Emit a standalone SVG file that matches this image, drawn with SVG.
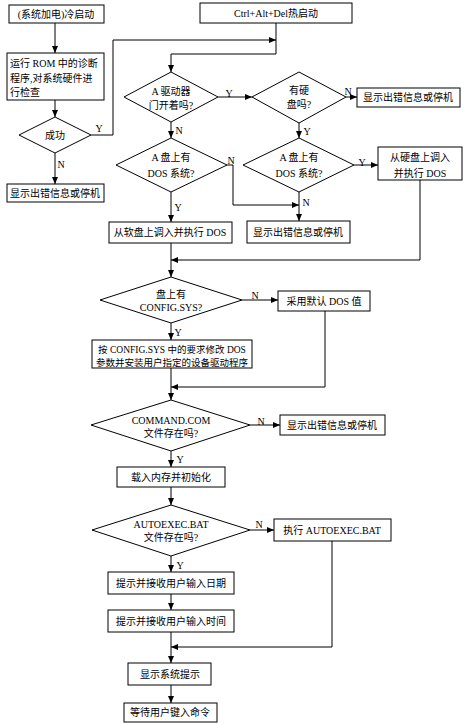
<svg xmlns="http://www.w3.org/2000/svg" width="466" height="724" viewBox="0 0 466 724">
<style>
.b{fill:#fff;stroke:#000;stroke-width:1}
.t{font-family:"Liberation Serif","Noto Sans CJK SC",serif;font-size:10px;fill:#000;text-anchor:middle}
.l{font-family:"Liberation Serif","Noto Sans CJK SC",serif;font-size:10px;fill:#000;text-anchor:middle}
.c{fill:none;stroke:#000;stroke-width:1;marker-end:url(#a)}
</style>
<defs>
<marker id="a" markerUnits="userSpaceOnUse" markerWidth="8" markerHeight="8" refX="7" refY="4" orient="auto">
<path d="M0,1 L7,4 L0,7 Z" fill="#000"/>
</marker>
</defs>
<rect width="466" height="724" fill="#fff"/>
<g id="connectors">
<path class="c" d="M55,23 V53"/>
<path class="c" d="M55,100 V117"/>
<path class="c" d="M91,135 H113 V40 H276"/>
<path class="c" d="M55,153 V184"/>
<path class="c" d="M276,23 V54 H171 V72"/>
<path class="c" d="M218,97 H252"/>
<path class="c" d="M346,97 H357"/>
<path class="c" d="M299,123 V138"/>
<path class="c" d="M171,122 V138"/>
<path class="c" d="M354,165 H378"/>
<path class="c" d="M171,192 V222"/>
<path class="c" d="M227,165 H233 V205 H299"/>
<path class="c" d="M299,192 V221"/>
<path class="c" d="M420,180 V260 H171"/>
<path class="c" d="M171,243 V277"/>
<path class="c" d="M242,300 H278"/>
<path class="c" d="M171,323 V340"/>
<path class="c" d="M325,311 V387 H171"/>
<path class="c" d="M171,368 V400"/>
<path class="c" d="M250,425 H280"/>
<path class="c" d="M171,451 V467"/>
<path class="c" d="M171,487 V505"/>
<path class="c" d="M250,530 H274"/>
<path class="c" d="M171,556 V572"/>
<path class="c" d="M171,594 V610"/>
<path class="c" d="M332,541 V647 H171"/>
<path class="c" d="M171,632 V663"/>
<path class="c" d="M171,685 V703"/>
<text class="l" x="99" y="132">Y</text>
<text class="l" x="61" y="168">N</text>
<text class="l" x="229" y="97">Y</text>
<text class="l" x="179" y="134">N</text>
<text class="l" x="348" y="95">N</text>
<text class="l" x="307" y="135">Y</text>
<text class="l" x="231" y="164">N</text>
<text class="l" x="178" y="211">Y</text>
<text class="l" x="362" y="166">Y</text>
<text class="l" x="306" y="206">N</text>
<text class="l" x="255" y="299">N</text>
<text class="l" x="178" y="336">Y</text>
<text class="l" x="261" y="425">N</text>
<text class="l" x="180" y="463">Y</text>
<text class="l" x="259" y="528">N</text>
<text class="l" x="180" y="569">Y</text>
</g>
<g id="n1"><rect class="b" x="9" y="5" width="95" height="18"/><text class="t" x="56" y="18">(系统加电)冷启动</text></g>
<g id="n2"><rect class="b" x="7" y="53" width="97" height="47"/>
<text class="t" style="text-anchor:start" x="10" y="67">运行 ROM 中的诊断</text>
<text class="t" style="text-anchor:start" x="10" y="82">程序,对系统硬件进</text>
<text class="t" style="text-anchor:start" x="10" y="96">行检查</text></g>
<g id="n3"><polygon class="b" points="55,117 91,135 55,153 19,135"/><text class="t" x="55" y="139">成功</text></g>
<g id="n4"><rect class="b" x="7" y="184" width="97" height="18"/><text class="t" x="55" y="197">显示出错信息或停机</text></g>
<g id="n5"><rect class="b" x="200" y="3" width="152" height="20"/><text class="t" x="276" y="17">Ctrl+Alt+Del热启动</text></g>
<g id="n6"><polygon class="b" points="171,72 218,97 171,122 124,97"/><text class="t" x="171" y="95">A 驱动器</text><text class="t" x="171" y="109">门开着吗?</text></g>
<g id="n7"><polygon class="b" points="299,72 346,97 299,123 252,97"/><text class="t" x="299" y="94">有硬</text><text class="t" x="299" y="108">盘吗?</text></g>
<g id="n8"><rect class="b" x="357" y="88" width="103" height="19"/><text class="t" x="408" y="101">显示出错信息或停机</text></g>
<g id="n9"><polygon class="b" points="171,138 227,165 171,192 116,165"/><text class="t" x="171" y="161">A 盘上有</text><text class="t" x="171" y="177">DOS 系统?</text></g>
<g id="n10"><polygon class="b" points="299,138 354,165 299,192 243,165"/><text class="t" x="299" y="161">A 盘上有</text><text class="t" x="299" y="177">DOS 系统?</text></g>
<g id="n11"><rect class="b" x="378" y="147" width="84" height="33"/><text class="t" x="420" y="161">从硬盘上调入</text><text class="t" x="420" y="177">并执行 DOS</text></g>
<g id="n12"><rect class="b" x="109" y="222" width="123" height="21"/><text class="t" x="170" y="236">从软盘上调入并执行 DOS</text></g>
<g id="n13"><rect class="b" x="247" y="221" width="103" height="22"/><text class="t" x="298" y="236">显示出错信息或停机</text></g>
<g id="n14"><polygon class="b" points="171,277 242,300 171,323 100,300"/><text class="t" x="171" y="298">盘上有</text><text class="t" x="171" y="311">CONFIG.SYS?</text></g>
<g id="n15"><rect class="b" x="278" y="291" width="92" height="20"/><text class="t" x="324" y="305">采用默认 DOS 值</text></g>
<g id="n16"><rect class="b" x="92" y="340" width="160" height="28"/><text class="t" style="font-size:9.5px" x="172" y="353">按 CONFIG.SYS 中的要求修改 DOS</text><text class="t" style="font-size:9.5px" x="172" y="366">参数并安装用户指定的设备驱动程序</text></g>
<g id="n17"><polygon class="b" points="171,400 250,425 171,451 91,425"/><text class="t" x="171" y="424">COMMAND.COM</text><text class="t" x="171" y="437">文件存在吗?</text></g>
<g id="n18"><rect class="b" x="280" y="415" width="105" height="20"/><text class="t" x="332" y="429">显示出错信息或停机</text></g>
<g id="n19"><rect class="b" x="117" y="467" width="108" height="20"/><text class="t" x="171" y="481">载入内存并初始化</text></g>
<g id="n20"><polygon class="b" points="171,505 250,530 171,556 92,530"/><text class="t" x="171" y="528">AUTOEXEC.BAT</text><text class="t" x="171" y="541">文件存在吗?</text></g>
<g id="n21"><rect class="b" x="274" y="519" width="117" height="22"/><text class="t" x="332" y="534">执行 AUTOEXEC.BAT</text></g>
<g id="n22"><rect class="b" x="108" y="572" width="126" height="22"/><text class="t" x="171" y="587">提示并接收用户输入日期</text></g>
<g id="n23"><rect class="b" x="108" y="610" width="126" height="22"/><text class="t" x="171" y="625">提示并接收用户输入时间</text></g>
<g id="n24"><rect class="b" x="128" y="663" width="83" height="22"/><text class="t" x="170" y="678">显示系统提示</text></g>
<g id="n25"><rect class="b" x="124" y="703" width="93" height="19"/><text class="t" x="170" y="716">等待用户键入命令</text></g>
</svg>
